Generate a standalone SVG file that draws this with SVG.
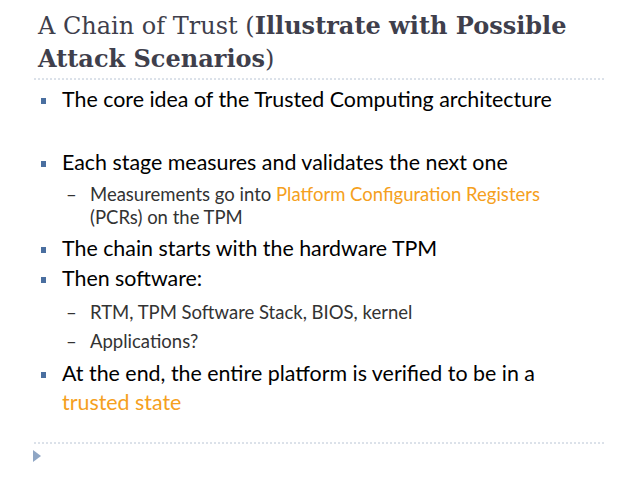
<svg xmlns="http://www.w3.org/2000/svg" width="638" height="478" viewBox="0 0 638 478">
<style>
.t{font-family:"DejaVu Serif","Liberation Serif",serif;font-size:24px;fill:#3f3f4c}
.b{font-family:Lato,"Open Sans",sans-serif;font-size:21.4px;fill:#000}
.s{font-family:Lato,"Open Sans",sans-serif;font-size:18.5px;fill:#333}
.o{fill:#f5a020}
.sq{fill:#4a6fa0}
.dl{stroke:#b8c4d4;stroke-width:1;stroke-dasharray:2,2}
</style>
<rect width="638" height="478" fill="#fff"/>
<text class="t" x="38" y="34">A Chain of Trust (<tspan font-weight="bold">Illustrate with Possible</tspan></text>
<text class="t" x="38" y="67"><tspan font-weight="bold">Attack Scenarios</tspan>)</text>
<line class="dl" x1="34" y1="79" x2="606" y2="79"/>
<g class="sq">
<rect x="41" y="98" width="5" height="6"/>
<rect x="41" y="161" width="5" height="6"/>
<rect x="41" y="247" width="5" height="6"/>
<rect x="41" y="277" width="5" height="6"/>
<rect x="41" y="372" width="5" height="6"/>
</g>
<text class="b" x="62" y="107">The core idea of the Trusted Computing architecture</text>
<text class="b" x="62" y="170">Each stage measures and validates the next one</text>
<text class="s" x="66" y="201">–</text>
<text class="s" x="90" y="201">Measurements go into <tspan class="o">Platform Configuration Registers</tspan></text>
<text class="s" x="90" y="224">(PCRs) on the TPM</text>
<text class="b" x="62" y="256">The chain starts with the hardware TPM</text>
<text class="b" x="62" y="286">Then software:</text>
<text class="s" x="66" y="319">–</text>
<text class="s" x="90" y="319">RTM, TPM Software Stack, BIOS, kernel</text>
<text class="s" x="66" y="348">–</text>
<text class="s" x="90" y="348">Applications?</text>
<text class="b" x="62" y="381">At the end, the entire platform is verified to be in a</text>
<text class="b o" x="62" y="410">trusted state</text>
<line class="dl" x1="34" y1="443" x2="606" y2="443"/>
<polygon points="33,450 41,456 33,462" fill="#8fa6c4"/>
</svg>
